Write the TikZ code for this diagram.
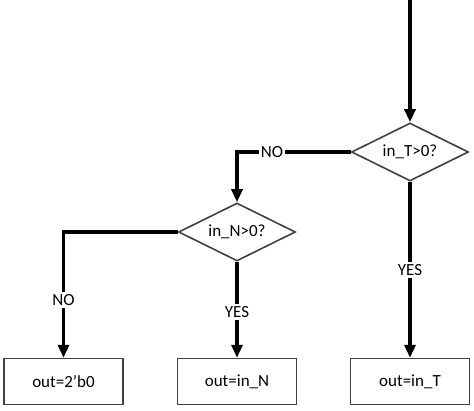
\documentclass[tikz,border=0pt]{standalone}
\usepackage{fontspec}
\setmainfont{Carlito}
\usetikzlibrary{shapes.geometric,arrows.meta}
\begin{document}
\begin{tikzpicture}[x=1pt,y=-1pt,
  font=\fontsize{17}{19}\selectfont,
  dec/.style={draw=black!75,line width=1.6pt,diamond,aspect=2,minimum width=117pt,minimum height=58pt,inner sep=0pt},
  outbox/.style={draw=black!75,line width=1.4pt,minimum width=119pt,minimum height=46pt,inner sep=0pt},
  flow/.style={line width=3.2pt,-{Triangle[length=13pt,width=11pt]}},
  lab/.style={fill=white,inner sep=2pt}]
\useasboundingbox (0,0) rectangle (474,411);
\node[dec] (d1) at (410,152) {in\_T>0?};
\node[dec] (d2) at (237,232) {in\_N>0?};
\node[outbox] (b1) at (63.5,381.5) {out=2'b0};
\node[outbox] (b2) at (237,381.5) {out=in\_N};
\node[outbox] (b3) at (410,381.5) {out=in\_T};
\coordinate (top) at (410,0);
\coordinate (c1) at (237,152);
\coordinate (c2) at (63.5,232);
\draw[flow] (top) -- (d1.north);
\draw[flow] (d1.west) -- (c1) -- (d2.north);
\node[lab] (no1) at (272,152) {NO};
\draw[flow] (d2.west) -- (c2) -- (b1.north);
\node[lab] (no2) at (63.5,300) {NO};
\draw[flow] (d2.south) -- (b2.north);
\node[lab] (yes2) at (237,312) {YES};
\draw[flow] (d1.south) -- (b3.north);
\node[lab] (yes1) at (410,270) {YES};
\end{tikzpicture}
\end{document}
